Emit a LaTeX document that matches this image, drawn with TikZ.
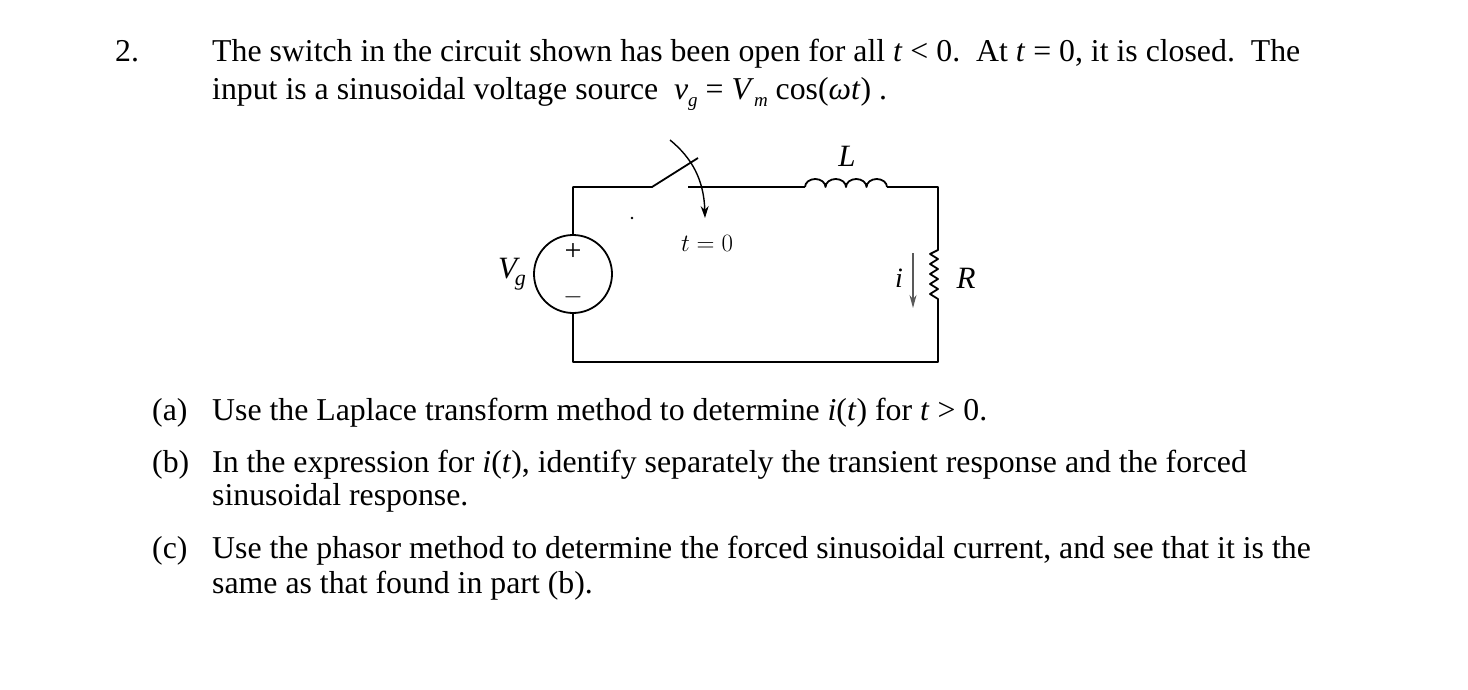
\documentclass[tikz,border=0pt]{standalone}
\usepackage{fontspec}
\setmainfont{Liberation Serif}
\usetikzlibrary{arrows.meta}
\newcommand{\sbs}[1]{\raisebox{-7pt}{\fontsize{19}{20}\selectfont\textit{#1}}}
\begin{document}
\begin{tikzpicture}[x=1pt,y=-1pt,
  txt/.style={anchor=base west,inner sep=0pt,font=\fontsize{31.8}{34}\selectfont},
  wire/.style={line width=1.8pt,line join=round}]
\useasboundingbox (0,0) rectangle (1468,690);
\node[txt] (n2) at (115,62) {2.};
\node[txt] (l1) at (212,62) {The switch in the circuit shown has been open for all \textit{t} < 0.\enspace At \textit{t} = 0, it is closed.\enspace The};
\node[txt] (l2) at (212,100) {input is a sinusoidal voltage source \ \textit{v}\sbs{g} = \textit{V}\sbs{m} cos(\textit{ωt}) .};
\node[txt] (pa) at (152,420) {(a)};
\node[txt] (ta) at (212,420) {Use the Laplace transform method to determine \textit{i}(\textit{t}) for \textit{t} > 0.};
\node[txt] (pb) at (152,472) {(b)};
\node[txt] (tb) at (212,472) {In the expression for \textit{i}(\textit{t}), identify separately the transient response and the forced};
\node[txt] (tb2) at (212,505) {sinusoidal response.};
\node[txt] (pc) at (152,558) {(c)};
\node[txt] (tc) at (212,558) {Use the phasor method to determine the forced sinusoidal current, and see that it is the};
\node[txt] (tc2) at (212,593) {same as that found in part (b).};
% circuit
\coordinate (tl) at (573,187); \coordinate (tr) at (938,187);
\coordinate (bl) at (573,362); \coordinate (br) at (938,362);
\node[circle,draw,line width=1.8pt,minimum size=78pt,inner sep=0pt] (src) at (573,274) {};
\node[font=\fontsize{30}{32}\selectfont] at (573,252) {+};
\node[font=\fontsize{30}{32}\selectfont] at (573,297) {$-$};
\coordinate (swa) at (652,187); \coordinate (swb) at (698,158); \coordinate (swc) at (688,187);
\coordinate (la) at (805,187); \coordinate (lb) at (887,187);
\coordinate (ra) at (938,250); \coordinate (rb) at (938,304);
\draw[wire] (src.north) -- (tl) -- (swa) -- (swb);
\draw[wire] (swc) -- (la);
\draw[wire] (la) \foreach \k in {0,1,2,3} { arc[start angle=180,end angle=0,x radius=10.25pt,y radius=8pt] } -- (lb);
\draw[wire] (lb) -- (tr) -- (ra) -- ++(-8,4) -- ++(8,5) -- ++(-8,5) -- ++(8,5) -- ++(-8,5) -- ++(8,5) -- ++(-8,5) -- ++(8,5) -- ++(-8,5) -- ++(8,5) -- (rb) -- (br) -- (bl) -- (src.south);
\coordinate (arcs) at (670,140); \coordinate (arce) at (705,218);
\draw[line width=1.4pt,-{Stealth[length=12pt,width=8pt]}] (arcs) .. controls (692,158) and (704,180) .. (arce);
\fill (632,218) circle (1.3pt);
\node[font=\fontsize{29}{31}\selectfont] (t0) at (707,243) {$t=0$};
\node[font=\fontsize{31}{33}\selectfont\itshape] (Ll) at (847,156) {L};
\node[font=\fontsize{31}{33}\selectfont\itshape] (Rl) at (966,278) {R};
\node[font=\fontsize{31}{33}\selectfont\itshape] (Vl) at (512,274) {V\kern-2pt\raisebox{-7pt}{\fontsize{22}{24}\selectfont g}};
\node[font=\fontsize{28}{30}\selectfont\itshape] (il) at (899,278) {i};
\coordinate (ia) at (913,253); \coordinate (ib) at (913,308);
\draw[gray!70!black,line width=1.3pt,-{Stealth[length=13pt,width=7pt]}] (ia) -- (ib);
\end{tikzpicture}
\end{document}
